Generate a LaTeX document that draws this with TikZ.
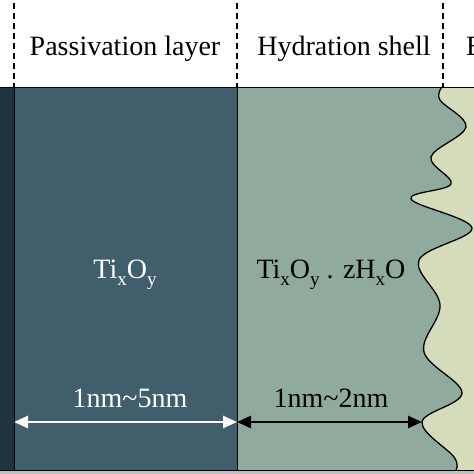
\documentclass[tikz,border=0pt]{standalone}
\usepackage{fontspec}
\setmainfont{Liberation Serif}
\usepackage{tikz}
\usetikzlibrary{positioning,arrows.meta}
\definecolor{substrate}{RGB}{30,52,62}
\definecolor{passiv}{RGB}{64,94,108}
\definecolor{hydra}{RGB}{145,170,158}
\definecolor{fluid}{RGB}{212,220,188}
\newcommand{\chemsub}[1]{\raisebox{-7pt}{\fontsize{19}{20}\selectfont #1}}
\tikzset{label text/.style={font=\fontsize{28}{32}\selectfont,inner sep=0pt,anchor=base},
         divider/.style={line width=2.4pt,dash pattern=on 6pt off 4pt},
         span arrow/.style={line width=2.6pt,{Triangle[length=14pt,width=12pt]}-{Triangle[length=14pt,width=12pt]}}
}
\begin{document}
\begin{tikzpicture}[x=1pt,y=1pt,yscale=-1,xscale=1]
\path[use as bounding box,clip] (0,0) rectangle (474,474);

%layers
\fill[fluid] (237,87) rectangle (474,470);
\fill[substrate] (0,87) rectangle (14,470);
\fill[passiv] (14,87) rectangle (237,470);
\fill[hydra] (237,87) -- (442,87) -- plot[smooth,tension=0.6] coordinates {(442,87) (440,100) (466,127) (431,157) (451,184) (411,199) (472,228) (419,260) (440,305) (424,352) (462,393) (422,422) (454,457) (456,470)} -- (237,470) -- cycle;
\fill[black!25] (0,470) rectangle (474,474);

%borders
\draw[line width=1pt] (0,87) -- (474,87);
\draw[line width=0.8pt] (0,470) -- (474,470);
\draw[line width=1pt] (14,87) -- (14,470);
\draw[line width=0.8pt] (237,87) -- (237,470);
\draw[line width=1.3pt] plot[smooth,tension=0.6] coordinates {(442,87) (440,100) (466,127) (431,157) (451,184) (411,199) (472,228) (419,260) (440,305) (424,352) (462,393) (422,422) (454,457) (456,470)};

%header
\coordinate (d1top) at (14,3);   \coordinate (d1bot) at (14,87);
\coordinate (d2top) at (237,3);  \coordinate (d2bot) at (237,87);
\coordinate (d3top) at (443,3);  \coordinate (d3bot) at (443,87);
\draw[divider] (d1top) -- (d1bot);
\draw[divider] (d2top) -- (d2bot);
\draw[divider] (d3top) -- (d3bot);
\node[label text] (passhead) at (125,55) {Passivation layer};
\node[label text] (hydrahead) at (344,55) {Hydration shell};
\node[label text,anchor=base west] (fluidhead) at (466,55) {Electrolyte};

%compounds
\node[label text,text=white] (oxide) at (125,278) {Ti\chemsub{x}O\chemsub{y}};
\node[label text] (hydrate) at (331,278) {Ti\chemsub{x}O\chemsub{y} . zH\chemsub{x}O};

%thickness
\coordinate (pa) at (14,422);
\coordinate (pb) at (237,422);
\coordinate (hb) at (422,422);
\draw[span arrow,white] (pa) -- (pb);
\draw[span arrow,black] (pb) -- (hb);
\node[label text,text=white] (passthick) at (130,407) {1nm\textasciitilde 5nm};
\node[label text] (hydrathick) at (331,407) {1nm\textasciitilde 2nm};

\end{tikzpicture}
\end{document}
